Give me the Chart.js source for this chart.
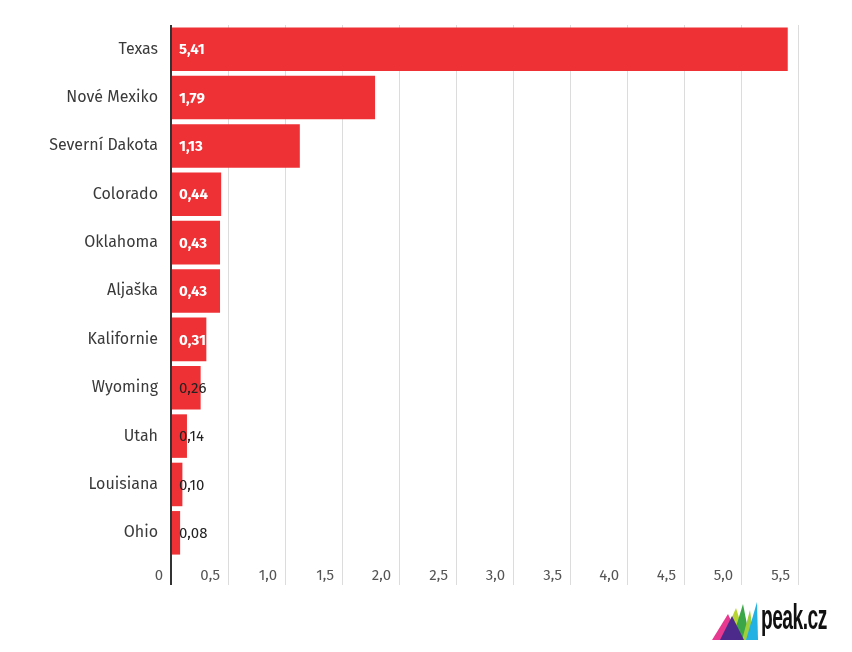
<!DOCTYPE html>
<html>
<head>
<meta charset="utf-8">
<script src="https://cdn.jsdelivr.net/npm/chart.js@4"></script>
<style>
  html, body { margin: 0; padding: 0; background: #fff; }
  #wrap { position: relative; width: 852px; height: 652px; }
  #logo { position: absolute; left: 712px; top: 602px; width: 120px; height: 48px; }
  #logo span { position: absolute; left: 49px; top: -5px; font-family: "Liberation Sans", sans-serif; font-weight: bold; font-size: 35px; color: #111; letter-spacing: -1px; transform: scaleX(0.55); transform-origin: left top; }
</style>
</head>
<body>
<div id="wrap">
  <canvas id="chart" width="852" height="652"></canvas>
  <div id="logo">
    <svg width="48" height="42" viewBox="0 0 48 42">
      <polygon points="0,38 16,12 28,38" fill="#e6398f"/>
      <polygon points="10,38 24,6 34,38" fill="#b8d433"/>
      <polygon points="20,38 31,2 38,38" fill="#3aa648"/>
      <polygon points="30,38 38,8 42,38" fill="#9fcf3a"/>
      <polygon points="34,38 45,0 46,38" fill="#23b1e3"/>
      <polygon points="8,38 20,14 32,38" fill="#4b2a8c"/>
    </svg>
    <span>peak.cz</span>
  </div>
</div>
<script>
const states = ['Texas', 'Nové Mexiko', 'Severní Dakota', 'Colorado', 'Oklahoma', 'Aljaška', 'Kalifornie', 'Wyoming', 'Utah', 'Louisiana', 'Ohio'];
const values = [5.41, 1.79, 1.13, 0.44, 0.43, 0.43, 0.31, 0.26, 0.14, 0.10, 0.08];

const fontFamily = '"Fira Sans", "Open Sans", sans-serif';
const fmt = v => v.toFixed(2).replace('.', ',');
const tickFmt = v => v === 0 ? '0' : v.toFixed(1).replace('.', ',');

// value labels inside the bars + x tick labels left of their grid lines
const labelsPlugin = {
  id: 'labelsPlugin',
  afterDatasetsDraw(chart) {
    const ctx = chart.ctx;
    const meta = chart.getDatasetMeta(0);
    ctx.save();
    ctx.textBaseline = 'middle';
    ctx.textAlign = 'left';
    meta.data.forEach((bar, i) => {
      const v = values[i];
      const big = v >= 0.3;
      ctx.font = (big ? 'bold ' : '') + '15px ' + fontFamily;
      ctx.fillStyle = big ? '#fff' : '#222';
      ctx.fillText(fmt(v), bar.base + 7, bar.y + 1);
    });

    const xs = chart.scales.x;
    ctx.textAlign = 'right';
    ctx.font = '15px ' + fontFamily;
    ctx.fillStyle = '#555';
    xs.ticks.forEach(t => {
      const px = xs.getPixelForValue(t.value);
      ctx.fillText(tickFmt(t.value), px - 8, chart.chartArea.bottom + 19);
    });
    ctx.restore();
  }
};

new Chart(document.getElementById('chart'), {
  type: 'bar',
  data: {
    labels: states,
    datasets: [{
      data: values,
      backgroundColor: '#ee3134',
      borderWidth: 0,
      barPercentage: 0.9,
      categoryPercentage: 1
    }]
  },
  options: {
    indexAxis: 'y',
    responsive: false,
    animation: false,
    layout: { padding: { top: 25, right: 54, bottom: 67, left: 10 } },
    plugins: { legend: { display: false }, tooltip: { enabled: false } },
    scales: {
      x: {
        min: 0,
        max: 5.5,
        border: { display: false },
        grid: {
          color: c => c.tick && c.tick.value === 0 ? '#333' : '#dcdcdc',
          lineWidth: c => c.tick && c.tick.value === 0 ? 2 : 1,
          tickLength: 28
        },
        ticks: { stepSize: 0.5, display: false }
      },
      y: {
        border: { display: false },
        grid: { display: false, drawTicks: false },
        afterFit: s => { s.width = 161; },
        ticks: {
          color: '#3a3a3a',
          padding: 13,
          font: { family: fontFamily, size: 16 }
        }
      }
    }
  },
  plugins: [labelsPlugin]
});
</script>
</body>
</html>
